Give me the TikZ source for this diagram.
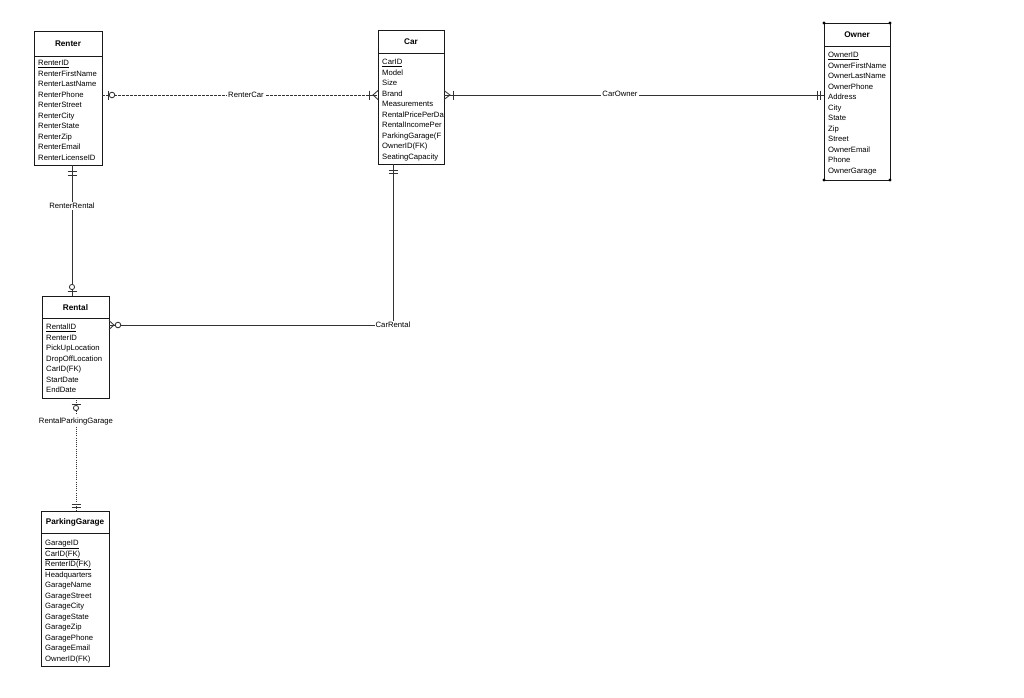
\documentclass[tikz,border=0pt]{standalone}
\usepackage{fontspec}
\setmainfont{Liberation Sans}
\usetikzlibrary{calc}
\newcommand\attrsize{\fontsize{7.7}{10.5}\selectfont}
\newcommand\hdrsize{\fontsize{8.2}{10}\selectfont\bfseries}
\begin{document}
\begin{tikzpicture}[x=1pt,y=-1pt,
  entity/.style={draw=black!90, line width=0.9pt, anchor=north west, inner sep=0pt, outer sep=0pt},
  sepline/.style={draw=black!90, line width=0.9pt},
  hdr/.style={font=\hdrsize, inner sep=0pt},
  attrs/.style={font=\attrsize, align=left, anchor=north west, inner sep=0pt},
  conn/.style={draw=black!80, line width=0.75pt},
  dashconn/.style={conn, dash pattern=on 2.5pt off 1.5pt},
  dotconn/.style={conn, dash pattern=on 1pt off 1.2pt},
  lbl/.style={font=\attrsize, fill=white, inner sep=1pt},
  ermark/.style={draw=black!80, line width=0.85pt},
  ercirc/.style={draw=black!80, line width=0.85pt, fill=white}]
\useasboundingbox[fill=white] (0,0) rectangle (1024,697);

% ---------- entities ----------
\node[entity, minimum width=68pt, minimum height=134pt] (renter) at (34,31) {};
\draw[sepline] ($(renter.north west)+(0,25)$) -- ($(renter.north east)+(0,25)$);
\node[hdr] (renterT) at ($(renter.north)+(0,13)$) {Renter};
\node[attrs] (renterA) at (38,60.1) {\underline{RenterID}\\RenterFirstName\\RenterLastName\\RenterPhone\\RenterStreet\\RenterCity\\RenterState\\RenterZip\\RenterEmail\\RenterLicenseID};

\node[entity, minimum width=66pt, minimum height=134pt] (car) at (378,30) {};
\draw[sepline] ($(car.north west)+(0,23)$) -- ($(car.north east)+(0,23)$);
\node[hdr] (carT) at ($(car.north)+(0,12)$) {Car};
\begin{scope}
\clip (car.north west) rectangle (car.south east);
\node[attrs] (carA) at (382,59.1) {\underline{CarID}\\Model\\Size\\Brand\\Measurements\\RentalPricePerDa\\RentalIncomePer\\ParkingGarage(F\\OwnerID(FK)\\SeatingCapacity};
\end{scope}

\node[entity, minimum width=66pt, minimum height=157pt] (owner) at (824,23) {};
\draw[sepline] ($(owner.north west)+(0,23)$) -- ($(owner.north east)+(0,23)$);
\node[hdr] (ownerT) at ($(owner.north)+(0,12)$) {Owner};
\begin{scope}
\clip (owner.north west) rectangle (owner.south east);
\node[attrs] (ownerA) at (828,52.1) {\underline{OwnerID}\\OwnerFirstName\\OwnerLastName\\OwnerPhone\\Address\\City\\State\\Zip\\Street\\OwnerEmail\\Phone\\OwnerGarage};
\end{scope}
\foreach \c in {north west, north east, south west, south east}
  \fill (owner.\c) circle (1.7pt);

\node[entity, minimum width=67pt, minimum height=102pt] (rental) at (42,296) {};
\draw[sepline] ($(rental.north west)+(0,22)$) -- ($(rental.north east)+(0,22)$);
\node[hdr] (rentalT) at ($(rental.north)+(0,12)$) {Rental};
\node[attrs] (rentalA) at (46,324.1) {\underline{RentalID}\\RenterID\\PickUpLocation\\DropOffLocation\\CarID(FK)\\StartDate\\EndDate};

\node[entity, minimum width=68pt, minimum height=155pt] (pg) at (41,511) {};
\draw[sepline] ($(pg.north west)+(0,22)$) -- ($(pg.north east)+(0,22)$);
\node[hdr] (pgT) at ($(pg.north)+(0,11)$) {ParkingGarage};
\node[attrs] (pgA) at (45,540.1) {\underline{GarageID}\\\underline{CarID(FK)}\\\underline{RenterID(FK)}\\Headquarters\\GarageName\\GarageStreet\\GarageCity\\GarageState\\GarageZip\\GaragePhone\\GarageEmail\\OwnerID(FK)};

% ---------- RenterCar ----------
\coordinate (rc1) at (renter.east |- 0,95);
\coordinate (rc2) at (car.west |- 0,95);
\draw[dashconn] (rc1) -- (rc2);
\node[lbl] (rcL) at (246,95) {RenterCar};
\draw[ermark] ($(rc1)+(6,-4.5)$) -- ($(rc1)+(6,4.5)$);
\draw[ercirc] ($(rc1)+(10,0)$) circle (2.8pt);
\draw[ermark] ($(rc2)+(-9,-4.5)$) -- ($(rc2)+(-9,4.5)$);
\draw[ermark] ($(rc2)+(0,-4.5)$) -- ($(rc2)+(-5,0)$) -- ($(rc2)+(0,4.5)$);

% ---------- CarOwner ----------
\coordinate (co1) at (car.east |- 0,95);
\coordinate (co2) at (owner.west |- 0,95);
\draw[conn] (co1) -- (co2);
\node[lbl] (coL) at (620,94) {CarOwner};
\draw[ermark] ($(co1)+(0,-4.5)$) -- ($(co1)+(6,0)$) -- ($(co1)+(0,4.5)$);
\draw[ermark] ($(co1)+(9,-4.5)$) -- ($(co1)+(9,4.5)$);
\draw[ermark] ($(co2)+(-4,-4.5)$) -- ($(co2)+(-4,4.5)$);
\draw[ermark] ($(co2)+(-7,-4.5)$) -- ($(co2)+(-7,4.5)$);

% ---------- RenterRental ----------
\coordinate (rr1) at (renter.south -| 72,0);
\coordinate (rr2) at (rental.north -| 72,0);
\draw[conn] (rr1) -- (rr2);
\node[lbl] (rrL) at (72,206) {RenterRental};
\draw[ermark] ($(rr1)+(-4.5,6)$) -- ($(rr1)+(4.5,6)$);
\draw[ermark] ($(rr1)+(-4.5,10)$) -- ($(rr1)+(4.5,10)$);
\draw[ermark] ($(rr2)+(-4.5,-5)$) -- ($(rr2)+(4.5,-5)$);
\draw[ercirc] ($(rr2)+(0,-9)$) circle (2.6pt);

% ---------- CarRental ----------
\coordinate (cr1) at (car.south -| 393,0);
\coordinate (cr2) at (rental.east |- 0,325);
\draw[conn] (cr1) |- (cr2);
\node[lbl] (crL) at (cr1 |- cr2) {CarRental};
\draw[ermark] ($(cr1)+(-4.5,6)$) -- ($(cr1)+(4.5,6)$);
\draw[ermark] ($(cr1)+(-4.5,9)$) -- ($(cr1)+(4.5,9)$);
\draw[ermark] ($(cr2)+(0,-4.5)$) -- ($(cr2)+(5,0)$) -- ($(cr2)+(0,4.5)$);
\draw[ercirc] ($(cr2)+(9,0)$) circle (2.8pt);

% ---------- RentalParkingGarage ----------
\coordinate (rp1) at (rental.south -| 76,0);
\coordinate (rp2) at (pg.north -| 76,0);
\draw[dotconn] (rp1) -- (rp2);
\node[lbl] (rpL) at (76,421) {RentalParkingGarage};
\draw[ermark] ($(rp1)+(-4.5,6)$) -- ($(rp1)+(4.5,6)$);
\draw[ercirc] ($(rp1)+(0,10)$) circle (2.6pt);
\draw[ermark] ($(rp2)+(-4.5,-4)$) -- ($(rp2)+(4.5,-4)$);
\draw[ermark] ($(rp2)+(-4.5,-7)$) -- ($(rp2)+(4.5,-7)$);
\end{tikzpicture}
\end{document}
